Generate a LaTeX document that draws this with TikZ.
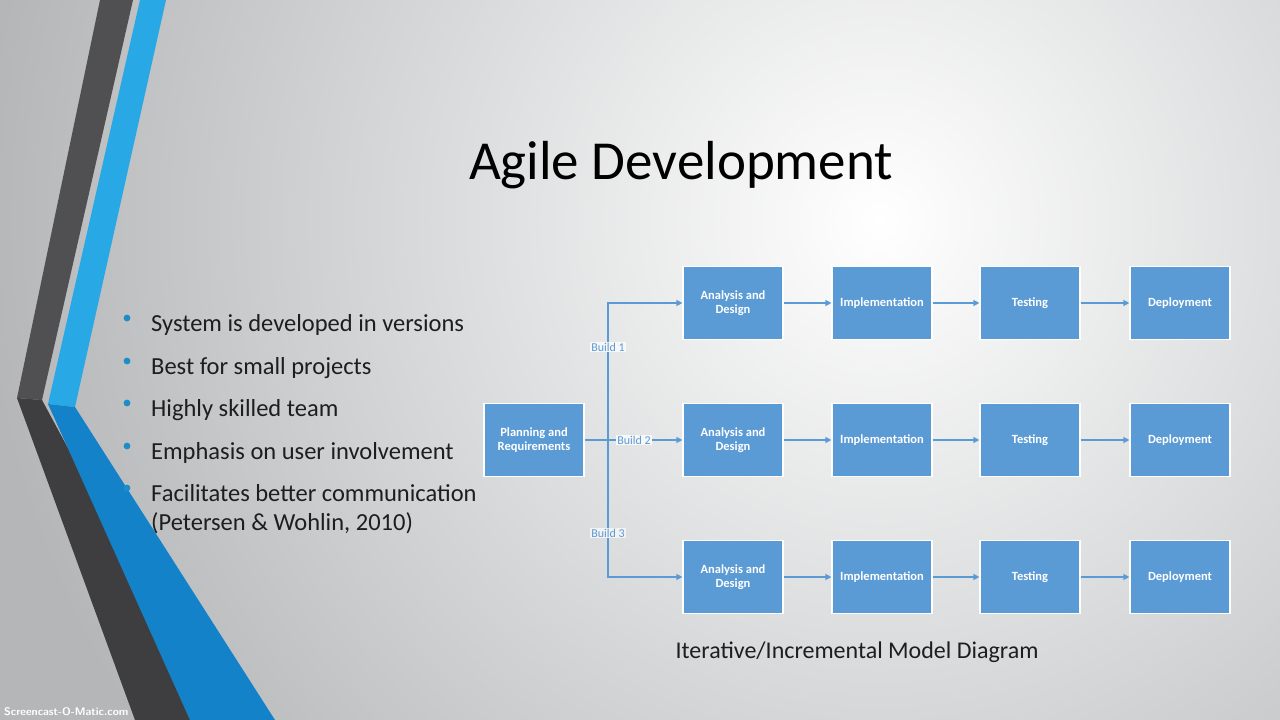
\documentclass[tikz,border=0pt]{standalone}
\usepackage{fontspec}
\setmainfont{Carlito}
\usetikzlibrary{arrows.meta}
\definecolor{boxblue}{RGB}{91,155,213}
\definecolor{lineblue}{RGB}{91,155,213}
\definecolor{darkband}{RGB}{80,80,82}
\definecolor{darkband2}{RGB}{62,62,64}
\definecolor{lightband}{RGB}{41,168,230}
\definecolor{lightband2}{RGB}{20,130,200}
\definecolor{bulletblue}{RGB}{30,140,200}
\definecolor{textgray}{RGB}{30,30,30}
\definecolor{bgedge}{RGB}{180,182,184}
\begin{document}
\begin{tikzpicture}[x=1pt,y=-1pt,
  stagebox/.style={draw=white,line width=1.2pt,fill=boxblue,minimum width=100pt,minimum height=73pt,text=white,font=\fontsize{12.5}{14}\selectfont\bfseries,align=center},
  flow/.style={draw=lineblue,line width=1.3pt,-{Triangle[length=6pt,width=6pt]}},
  buildlbl/.style={text=lineblue,font=\fontsize{12}{13}\selectfont,inner sep=1pt},
  bullettext/.style={anchor=base west,text=textgray,font=\fontsize{24.5}{28}\selectfont,inner sep=0pt}]
\useasboundingbox (0,0) rectangle (1280,720);
\fill[bgedge] (0,0) rectangle (1280,720);
\begin{scope}
\clip (0,0) rectangle (1280,720);
\shade[inner color=white,outer color=bgedge] (880,220) circle (900);
\end{scope}
% decoration
\fill[darkband] (100,0) -- (133,0) -- (42,400) -- (17,398) -- cycle;
\fill[lightband] (140,0) -- (166,0) -- (75,407) -- (48,404) -- cycle;
\fill[darkband2] (17,398) -- (42,400) -- (215,720) -- (135,720) -- cycle;
\fill[lightband2] (48,404) -- (75,407) -- (275,720) -- (190,720) -- cycle;
% title
\node[font=\fontsize{55}{60}\selectfont,text=black] (title) at (681,165) {Agile Development};
% bullets
\foreach \y/\t [count=\i] in {323/System is developed in versions,366/Best for small projects,408/Highly skilled team,451/Emphasis on user involvement,493/Facilitates better communication}{
  \fill[bulletblue] (127,\y-5) circle (3.4);
  \node[bullettext] (b\i) at (151,\y+8) {\t};
}
\node[bullettext] (b6) at (151,530) {(Petersen \& Wohlin, 2010)};
% diagram
\node[stagebox] (plan) at (534,440) {Planning and\\Requirements};
\foreach \r/\y in {1/303,2/440,3/577}{
  \node[stagebox] (ad\r) at (733,\y) {Analysis and\\Design};
  \node[stagebox] (im\r) at (882,\y) {Implementation};
  \node[stagebox] (te\r) at (1030,\y) {Testing};
  \node[stagebox] (de\r) at (1180,\y) {Deployment};
  \draw[flow] (ad\r) -- (im\r);
  \draw[flow] (im\r) -- (te\r);
  \draw[flow] (te\r) -- (de\r);
}
\coordinate (trunk) at (608,440);
\draw[draw=lineblue,line width=1.3pt] (plan.east) -- (trunk);
\draw[flow] (trunk) -- (608,303) -- (ad1.west);
\draw[flow] (trunk) -- (608,577) -- (ad3.west);
\draw[flow] (trunk) -- (ad2.west);
\node[buildlbl,fill=white!94!gray] (l1) at (608,347) {Build 1};
\node[buildlbl,fill=white!94!gray] (l2) at (634,440) {Build 2};
\node[buildlbl,fill=white!90!gray] (l3) at (608,533) {Build 3};
\node[font=\fontsize{24}{28}\selectfont,text=textgray] (cap) at (857,652) {Iterative/Incremental Model Diagram};
\node[anchor=south west,font=\sffamily\bfseries\fontsize{11}{12}\selectfont,text=white,inner sep=2pt] (wm) at (2,718) {Screencast-O-Matic.com};
\end{tikzpicture}
\end{document}
